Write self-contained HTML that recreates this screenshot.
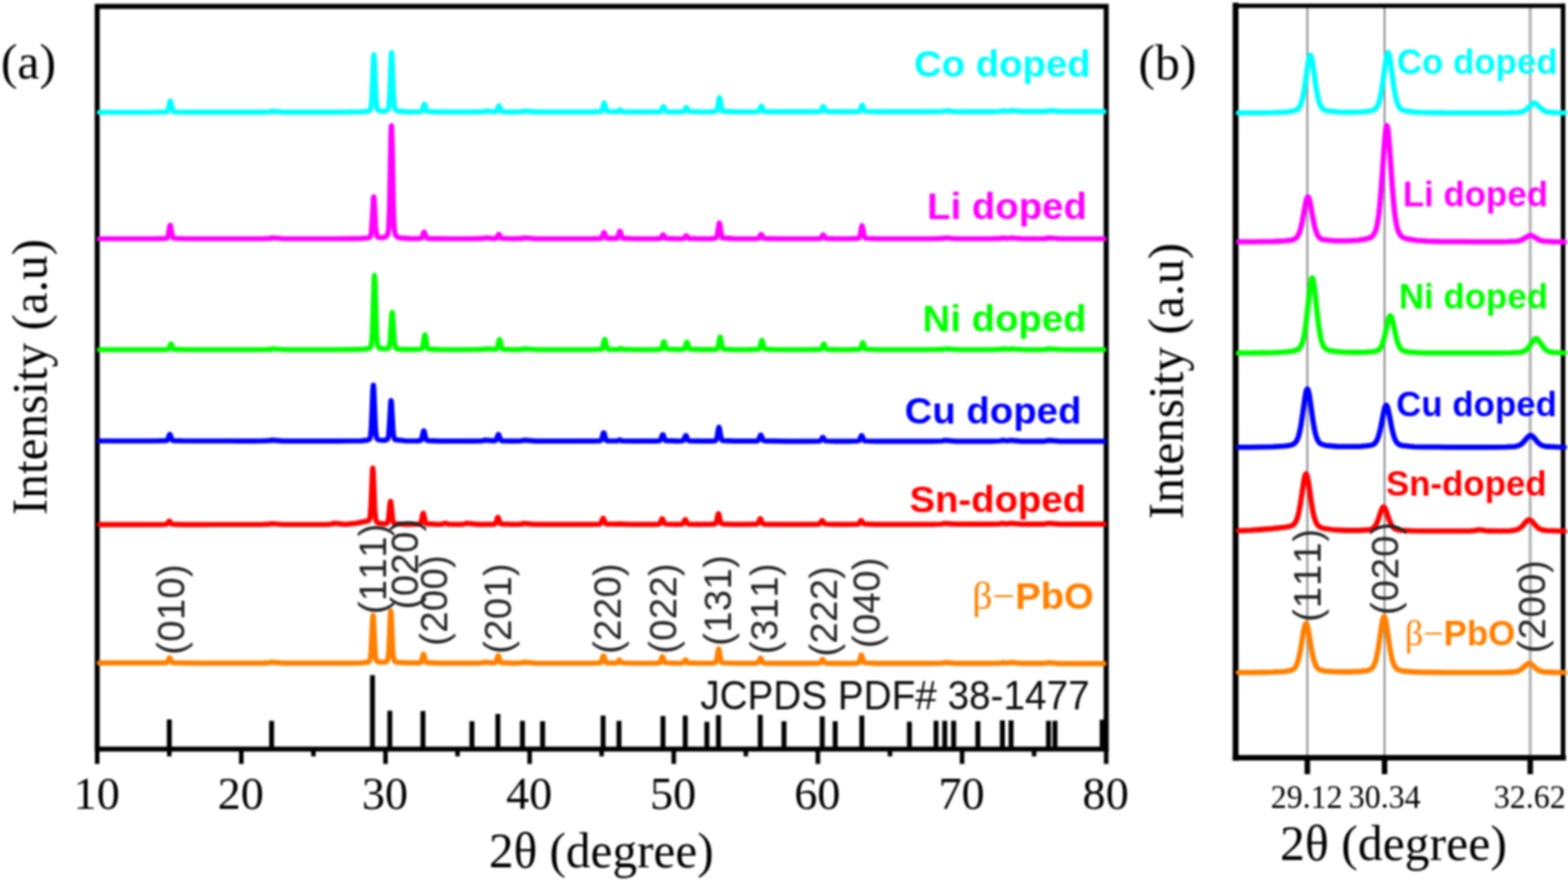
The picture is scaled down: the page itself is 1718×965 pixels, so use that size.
<!DOCTYPE html>
<html lang="en">
<head>
<meta charset="utf-8">
<title>XRD patterns</title>
<style>
html,body{margin:0;padding:0;background:#fff;}
body{width:1718px;height:965px;overflow:hidden;}
svg{display:block;filter:blur(1px);}
</style>
</head>
<body>
<svg width="1718" height="965" viewBox="0 0 1718 965" role="img" aria-label="XRD patterns">
<rect width="1718" height="965" fill="#fff"/>
<g stroke="#000" stroke-width="5.4" stroke-linecap="butt"><line x1="185.5" y1="820.5" x2="185.5" y2="788.0"/><line x1="297.6" y1="820.5" x2="297.6" y2="789.6"/><line x1="408.1" y1="820.5" x2="408.1" y2="739.5"/><line x1="427.1" y1="820.5" x2="427.1" y2="778.5"/><line x1="463.4" y1="820.5" x2="463.4" y2="778.8"/><line x1="517.1" y1="820.5" x2="517.1" y2="790.0"/><line x1="545.5" y1="820.5" x2="545.5" y2="782.0"/><line x1="572.4" y1="820.5" x2="572.4" y2="789.6"/><line x1="594.5" y1="820.5" x2="594.5" y2="790.0"/><line x1="660.8" y1="820.5" x2="660.8" y2="783.8"/><line x1="678.2" y1="820.5" x2="678.2" y2="789.6"/><line x1="726.4" y1="820.5" x2="726.4" y2="784.3"/><line x1="750.8" y1="820.5" x2="750.8" y2="783.8"/><line x1="774.5" y1="820.5" x2="774.5" y2="790.6"/><line x1="787.2" y1="820.5" x2="787.2" y2="783.3"/><line x1="833.0" y1="820.5" x2="833.0" y2="783.0"/><line x1="859.0" y1="820.5" x2="859.0" y2="790.0"/><line x1="900.9" y1="820.5" x2="900.9" y2="784.6"/><line x1="915.1" y1="820.5" x2="915.1" y2="790.0"/><line x1="944.3" y1="820.5" x2="944.3" y2="783.8"/><line x1="996.4" y1="820.5" x2="996.4" y2="790.5"/><line x1="1025.6" y1="820.5" x2="1025.6" y2="789.5"/><line x1="1035.1" y1="820.5" x2="1035.1" y2="789.5"/><line x1="1044.9" y1="820.5" x2="1044.9" y2="789.5"/><line x1="1071.4" y1="820.5" x2="1071.4" y2="790.0"/><line x1="1098.3" y1="820.5" x2="1098.3" y2="789.0"/><line x1="1107.8" y1="820.5" x2="1107.8" y2="789.0"/><line x1="1148.8" y1="820.5" x2="1148.8" y2="789.5"/><line x1="1155.9" y1="820.5" x2="1155.9" y2="789.5"/><line x1="1207.6" y1="820.5" x2="1207.6" y2="788.3"/></g>
<rect x="106.5" y="7.0" width="1105.5" height="813.5" fill="none" stroke="#000" stroke-width="5.5"/>
<g stroke="#000" stroke-width="5"><line x1="106.5" y1="820.5" x2="106.5" y2="836.8"/><line x1="264.4" y1="820.5" x2="264.4" y2="836.8"/><line x1="422.4" y1="820.5" x2="422.4" y2="836.8"/><line x1="580.3" y1="820.5" x2="580.3" y2="836.8"/><line x1="738.2" y1="820.5" x2="738.2" y2="836.8"/><line x1="896.1" y1="820.5" x2="896.1" y2="836.8"/><line x1="1054.1" y1="820.5" x2="1054.1" y2="836.8"/><line x1="1212.0" y1="820.5" x2="1212.0" y2="836.8"/><line x1="185.5" y1="820.5" x2="185.5" y2="828.5"/><line x1="343.4" y1="820.5" x2="343.4" y2="828.5"/><line x1="501.3" y1="820.5" x2="501.3" y2="828.5"/><line x1="659.2" y1="820.5" x2="659.2" y2="828.5"/><line x1="817.2" y1="820.5" x2="817.2" y2="828.5"/><line x1="975.1" y1="820.5" x2="975.1" y2="828.5"/><line x1="1133.0" y1="820.5" x2="1133.0" y2="828.5"/></g>
<g fill="none" stroke-width="5.7" stroke-linejoin="round" stroke-linecap="round">
<path d="M109.0,726.2 L121.2,726.2 L133.5,726.2 L145.8,726.2 L158.0,726.2 L170.2,726.2 L181.8,726.0 L182.5,725.8 L183.0,725.5 L183.5,724.9 L184.2,723.4 L185.2,721.0 L185.5,720.6 L185.8,720.5 L186.0,720.6 L186.2,720.9 L187.8,724.4 L188.2,725.2 L188.8,725.6 L189.8,726.0 L202.0,726.2 L214.2,726.3 L226.5,726.3 L238.8,726.3 L251.0,726.3 L263.2,726.3 L275.5,726.3 L287.8,726.3 L294.8,725.9 L297.8,725.3 L310.0,726.3 L322.2,726.3 L334.5,726.3 L346.8,726.3 L359.0,726.3 L371.2,726.3 L383.5,726.3 L395.8,726.1 L402.5,725.4 L403.8,725.0 L404.5,724.4 L405.0,723.7 L405.2,723.0 L405.5,722.2 L406.0,719.2 L406.5,713.9 L407.2,700.4 L408.2,678.4 L408.5,675.2 L408.8,674.0 L409.0,675.0 L409.2,678.1 L410.8,709.8 L411.2,716.6 L411.8,720.7 L412.0,722.0 L412.2,722.9 L412.8,724.0 L413.2,724.5 L414.8,725.2 L420.5,725.5 L422.8,725.0 L423.5,724.6 L424.0,724.1 L424.5,723.2 L424.8,722.4 L425.0,721.4 L425.5,717.8 L426.0,711.5 L426.8,696.0 L427.5,677.4 L427.8,672.6 L428.0,669.7 L428.2,669.1 L428.5,671.0 L429.0,680.4 L430.0,704.8 L430.5,713.5 L431.0,719.0 L431.2,720.8 L431.5,722.0 L431.8,722.9 L432.2,724.0 L432.8,724.6 L434.2,725.3 L446.5,726.2 L458.8,726.1 L460.2,725.9 L460.8,725.6 L461.2,725.1 L461.8,724.1 L462.5,721.6 L463.5,717.5 L463.8,716.9 L464.0,716.6 L464.2,716.8 L464.5,717.3 L466.0,723.2 L466.5,724.5 L467.0,725.3 L467.5,725.7 L479.8,726.4 L492.0,726.4 L504.2,726.4 L516.5,726.4 L528.2,726.1 L531.5,725.4 L540.8,726.2 L542.0,726.0 L542.5,725.8 L543.0,725.4 L543.5,724.6 L544.0,723.4 L545.2,719.1 L545.5,718.5 L545.8,718.2 L546.0,718.2 L546.2,718.6 L547.8,723.6 L548.2,724.8 L548.8,725.5 L549.2,725.9 L561.5,726.4 L571.0,726.1 L574.0,725.4 L586.2,726.4 L598.5,726.5 L610.8,726.5 L623.0,726.5 L635.2,726.5 L647.5,726.5 L657.0,726.2 L657.8,725.9 L658.2,725.5 L658.8,724.8 L659.2,723.6 L660.5,719.3 L660.8,718.6 L661.0,718.3 L661.2,718.3 L661.5,718.6 L663.0,723.6 L663.5,724.8 L664.0,725.5 L664.5,725.9 L674.8,726.3 L675.8,726.0 L676.5,725.5 L678.0,723.5 L678.2,723.3 L678.5,723.2 L678.8,723.3 L679.2,723.8 L680.5,725.5 L681.2,726.0 L693.5,726.5 L705.8,726.5 L718.0,726.4 L722.0,726.2 L722.8,725.9 L723.2,725.4 L723.8,724.5 L725.2,720.2 L725.5,719.6 L725.8,719.3 L726.0,719.3 L726.2,719.6 L727.8,723.9 L728.2,725.0 L728.8,725.7 L729.2,726.0 L741.5,726.5 L747.5,726.3 L748.2,726.1 L748.8,725.8 L749.5,724.9 L750.5,723.3 L750.8,723.0 L751.0,722.8 L751.2,722.8 L751.5,722.9 L753.2,725.5 L754.0,726.1 L766.2,726.5 L778.5,726.4 L783.0,726.1 L783.8,725.7 L784.2,725.3 L784.8,724.3 L785.2,722.7 L786.0,718.5 L786.8,713.3 L787.0,712.0 L787.2,711.1 L787.5,710.8 L787.8,711.2 L788.0,712.2 L789.5,721.8 L790.0,723.8 L790.5,725.0 L791.0,725.6 L791.8,726.0 L804.0,726.5 L816.2,726.6 L828.5,726.4 L829.8,726.2 L830.2,726.0 L830.8,725.6 L831.2,724.8 L832.8,721.3 L833.0,721.0 L833.2,720.8 L833.5,720.9 L833.8,721.3 L835.2,724.8 L835.8,725.5 L836.2,726.0 L837.2,726.3 L849.5,726.6 L861.8,726.6 L874.0,726.6 L886.2,726.6 L897.5,726.4 L898.2,726.1 L898.8,725.8 L899.5,724.8 L900.5,723.0 L900.8,722.6 L901.0,722.4 L901.2,722.4 L901.5,722.5 L902.0,723.2 L903.2,725.4 L903.8,725.9 L904.5,726.3 L916.8,726.6 L929.0,726.6 L939.5,726.3 L940.2,726.1 L940.8,725.8 L941.2,725.1 L941.8,724.0 L943.2,718.4 L943.5,717.7 L943.8,717.4 L944.0,717.5 L944.2,718.0 L945.8,723.5 L946.2,724.8 L946.8,725.6 L947.2,726.0 L959.5,726.6 L971.8,726.7 L984.0,726.7 L996.2,726.7 L1008.5,726.7 L1020.8,726.7 L1032.0,726.4 L1035.2,725.7 L1047.5,726.7 L1059.8,726.7 L1072.0,726.7 L1084.2,726.7 L1095.2,726.4 L1098.5,725.7 L1103.0,726.4 L1107.2,725.7 L1119.5,726.7 L1131.8,726.7 L1144.0,726.7 L1149.0,725.8 L1161.2,726.8 L1173.5,726.8 L1185.8,726.8 L1198.0,726.8 L1209.5,726.8" stroke="#ff8000"/>
<path d="M109.0,574.6 L121.2,574.6 L133.5,574.6 L145.8,574.6 L158.0,574.6 L170.2,574.6 L181.8,574.4 L182.5,574.2 L183.2,573.6 L185.0,571.1 L185.2,570.9 L185.5,570.8 L185.8,570.9 L186.2,571.5 L187.5,573.4 L188.2,574.1 L200.5,574.6 L212.8,574.6 L225.0,574.6 L237.2,574.5 L249.5,574.5 L261.8,574.5 L274.0,574.5 L286.2,574.5 L294.5,574.2 L297.5,573.5 L309.8,574.5 L322.0,574.5 L334.2,574.5 L346.5,574.5 L358.8,574.4 L363.2,574.0 L366.0,573.2 L378.2,574.3 L390.5,573.1 L402.8,570.6 L403.8,570.3 L404.2,569.9 L404.5,569.6 L404.8,569.1 L405.0,568.4 L405.2,567.4 L405.5,565.9 L406.0,561.1 L406.5,553.0 L408.0,516.7 L408.2,513.5 L408.5,512.7 L408.8,514.4 L409.0,518.5 L410.5,555.4 L411.0,563.1 L411.5,567.7 L411.8,569.1 L412.0,570.1 L412.5,571.4 L413.0,572.0 L414.2,572.8 L420.5,573.8 L423.0,573.5 L423.8,573.2 L424.2,572.8 L424.8,572.0 L425.2,570.3 L425.8,567.4 L427.2,552.3 L427.5,550.3 L427.8,549.2 L428.0,549.2 L428.2,550.2 L428.8,554.6 L429.8,565.3 L430.2,569.0 L430.8,571.3 L431.2,572.5 L431.8,573.2 L432.5,573.6 L444.8,574.3 L457.0,574.2 L459.5,574.0 L460.2,573.6 L460.8,573.1 L461.2,572.2 L461.8,570.5 L463.2,563.1 L463.5,562.4 L463.8,562.2 L464.0,562.5 L464.2,563.2 L465.8,570.7 L466.2,572.2 L466.8,573.2 L467.2,573.7 L479.5,574.4 L484.5,574.2 L487.5,573.1 L488.2,573.1 L491.5,574.2 L503.8,574.4 L508.5,574.0 L511.2,573.2 L523.5,574.4 L535.8,574.4 L541.5,574.1 L542.2,573.8 L542.8,573.4 L543.2,572.7 L544.0,570.7 L545.0,567.4 L545.2,566.9 L545.5,566.7 L545.8,566.8 L546.0,567.2 L547.5,571.9 L548.0,573.0 L548.5,573.6 L549.0,573.9 L561.2,574.4 L570.8,574.1 L573.8,573.4 L586.0,574.4 L598.2,574.4 L610.5,574.4 L622.8,574.4 L635.0,574.4 L647.2,574.4 L656.8,574.1 L657.5,573.9 L658.0,573.5 L658.5,572.9 L659.2,571.2 L660.2,568.4 L660.5,567.9 L660.8,567.7 L661.0,567.7 L661.2,568.0 L662.8,572.1 L663.2,573.1 L663.8,573.6 L664.5,574.0 L676.0,574.2 L678.2,573.9 L690.5,574.4 L702.8,574.4 L715.0,574.3 L721.8,574.1 L722.5,573.8 L723.0,573.3 L723.5,572.6 L725.0,568.8 L725.2,568.3 L725.5,568.1 L725.8,568.2 L726.0,568.5 L727.5,572.2 L728.0,573.1 L728.5,573.7 L729.2,574.0 L741.5,574.3 L747.0,574.1 L747.8,573.9 L748.2,573.5 L748.8,572.9 L750.2,569.7 L750.5,569.3 L750.8,569.1 L751.0,569.1 L751.2,569.4 L752.8,572.5 L753.2,573.3 L753.8,573.7 L754.8,574.1 L767.0,574.3 L779.2,574.2 L783.0,573.9 L783.8,573.6 L784.2,573.0 L784.8,572.0 L785.2,570.4 L786.5,564.3 L786.8,563.3 L787.0,562.7 L787.2,562.6 L787.5,563.0 L788.0,565.0 L789.0,570.0 L789.5,571.8 L790.0,572.9 L790.5,573.5 L791.2,573.9 L803.5,574.3 L815.8,574.3 L828.0,574.2 L829.5,573.9 L830.0,573.7 L830.5,573.2 L831.0,572.3 L832.5,568.5 L832.8,568.2 L833.0,568.1 L833.2,568.2 L833.8,569.2 L835.0,572.4 L835.5,573.2 L836.0,573.7 L837.0,574.1 L849.2,574.3 L861.5,574.3 L873.8,574.3 L886.0,574.3 L897.2,574.1 L898.0,573.8 L898.5,573.4 L899.2,572.4 L900.2,570.6 L900.5,570.3 L900.8,570.1 L901.0,570.1 L901.2,570.3 L903.0,573.1 L903.5,573.6 L904.2,574.0 L916.5,574.3 L928.8,574.3 L939.8,574.1 L940.5,573.9 L941.0,573.5 L941.8,572.6 L943.0,570.4 L943.2,570.2 L943.5,570.0 L943.8,570.1 L944.0,570.4 L945.5,572.9 L946.0,573.5 L946.8,573.9 L959.0,574.3 L971.2,574.3 L983.5,574.3 L995.8,574.3 L1008.0,574.3 L1020.2,574.3 L1031.8,574.0 L1035.0,573.3 L1047.2,574.2 L1059.5,574.2 L1071.8,574.2 L1084.0,574.2 L1095.0,573.9 L1098.0,573.2 L1102.8,573.9 L1107.0,573.2 L1119.2,574.2 L1131.5,574.2 L1143.8,574.1 L1148.8,573.2 L1161.0,574.2 L1173.2,574.2 L1185.5,574.2 L1197.8,574.2 L1209.5,574.2" stroke="#ff0000"/>
<path d="M109.0,483.0 L121.2,483.0 L133.5,483.0 L145.8,483.0 L158.0,483.0 L170.2,483.0 L182.0,482.7 L182.8,482.5 L183.2,482.1 L183.8,481.4 L184.5,479.6 L185.5,476.5 L185.8,476.0 L186.0,475.8 L186.2,475.9 L186.5,476.2 L188.0,480.6 L188.5,481.6 L189.0,482.2 L189.8,482.6 L202.0,483.0 L214.2,483.0 L226.5,483.0 L238.8,483.0 L251.0,483.0 L263.2,483.1 L275.5,483.1 L287.8,483.0 L295.0,482.7 L298.0,482.1 L310.2,483.1 L322.5,483.1 L334.8,483.1 L347.0,483.1 L359.2,483.1 L371.5,483.1 L383.8,483.0 L396.0,482.8 L402.5,482.1 L404.0,481.6 L404.5,481.2 L405.0,480.6 L405.5,479.4 L405.8,478.4 L406.0,477.1 L406.5,472.6 L407.0,465.1 L408.5,428.0 L408.8,423.8 L409.0,421.9 L409.2,422.5 L409.5,425.7 L411.0,462.7 L411.5,471.1 L412.0,476.2 L412.2,477.8 L412.5,478.9 L412.8,479.7 L413.2,480.7 L413.8,481.2 L415.5,482.0 L421.5,482.3 L423.5,481.8 L424.2,481.3 L424.8,480.7 L425.0,480.1 L425.2,479.4 L425.8,476.8 L426.2,472.2 L427.0,460.6 L428.0,442.2 L428.2,439.6 L428.5,438.8 L428.8,439.8 L429.0,442.6 L430.5,469.4 L431.0,475.1 L431.5,478.5 L431.8,479.6 L432.0,480.3 L432.5,481.2 L433.0,481.7 L445.2,483.0 L457.5,482.9 L460.2,482.6 L460.8,482.4 L461.2,482.0 L461.8,481.2 L462.2,479.9 L463.8,473.1 L464.0,472.3 L464.2,471.9 L464.5,471.9 L464.8,472.5 L466.2,479.3 L466.8,480.9 L467.2,481.8 L467.8,482.3 L468.8,482.7 L481.0,483.1 L493.2,483.1 L505.5,483.1 L517.8,483.1 L528.5,482.8 L531.8,482.1 L541.2,482.9 L542.5,482.7 L543.0,482.5 L543.5,482.0 L544.0,481.2 L545.5,476.8 L545.8,476.3 L546.0,475.9 L546.2,475.9 L546.5,476.2 L548.2,481.1 L548.8,482.0 L549.2,482.5 L550.0,482.8 L562.2,483.1 L571.2,482.8 L574.5,482.2 L586.8,483.2 L599.0,483.2 L611.2,483.2 L623.5,483.2 L635.8,483.2 L648.0,483.2 L657.2,482.8 L658.0,482.6 L658.5,482.2 L659.0,481.4 L659.5,480.1 L660.8,475.3 L661.0,474.5 L661.2,474.0 L661.5,474.0 L661.8,474.3 L662.2,475.8 L663.2,479.7 L663.8,481.1 L664.2,482.0 L664.8,482.5 L665.8,482.9 L675.8,483.0 L677.0,482.7 L678.5,482.0 L679.0,481.9 L681.2,482.9 L693.5,483.2 L705.8,483.2 L718.0,483.1 L722.2,482.9 L723.0,482.6 L723.5,482.1 L724.0,481.3 L725.8,476.4 L726.0,476.0 L726.2,476.0 L726.5,476.2 L727.0,477.4 L728.0,480.5 L728.5,481.6 L729.0,482.3 L729.5,482.7 L741.8,483.2 L747.5,482.9 L748.2,482.7 L748.8,482.3 L749.2,481.6 L751.0,477.4 L751.2,477.1 L751.5,477.0 L751.8,477.2 L752.2,478.2 L753.2,480.8 L753.8,481.8 L754.2,482.4 L755.0,482.8 L767.2,483.2 L779.5,483.1 L783.2,482.8 L784.0,482.5 L784.5,482.0 L785.0,481.2 L785.5,479.7 L786.2,475.8 L787.2,469.3 L787.5,468.4 L787.8,468.0 L788.0,468.3 L788.2,469.1 L789.8,478.4 L790.2,480.4 L790.8,481.6 L791.2,482.3 L792.0,482.7 L804.2,483.2 L816.5,483.2 L828.8,483.1 L830.0,482.9 L830.5,482.6 L831.0,482.1 L831.5,481.3 L833.0,477.2 L833.2,476.7 L833.5,476.5 L833.8,476.6 L834.0,476.9 L835.5,481.0 L836.0,481.9 L836.5,482.5 L837.2,482.9 L849.5,483.2 L861.8,483.3 L874.0,483.3 L886.2,483.3 L897.8,483.1 L898.5,482.8 L899.0,482.5 L899.8,481.6 L901.0,479.4 L901.2,479.1 L901.5,479.0 L901.8,479.1 L902.2,479.8 L903.5,482.0 L904.0,482.5 L904.8,483.0 L917.0,483.3 L929.2,483.3 L940.2,483.0 L941.0,482.7 L941.5,482.3 L942.0,481.6 L943.5,477.8 L943.8,477.3 L944.0,477.1 L944.2,477.1 L944.5,477.4 L946.0,481.1 L946.5,482.0 L947.0,482.6 L947.8,483.0 L960.0,483.3 L972.2,483.3 L984.5,483.3 L996.8,483.3 L1009.0,483.3 L1021.2,483.3 L1032.2,483.0 L1035.5,482.3 L1047.8,483.3 L1060.0,483.3 L1072.2,483.3 L1084.5,483.3 L1095.5,483.0 L1098.8,482.3 L1103.2,483.0 L1107.5,482.3 L1119.8,483.3 L1132.0,483.4 L1144.2,483.3 L1149.5,482.4 L1161.8,483.4 L1174.0,483.4 L1186.2,483.4 L1198.5,483.4 L1209.5,483.4" stroke="#0000ff"/>
<path d="M109.0,383.0 L121.2,383.0 L133.5,383.0 L145.8,383.0 L158.0,383.0 L170.2,383.0 L182.5,382.8 L183.8,382.6 L184.2,382.4 L184.8,381.9 L185.2,381.1 L186.8,377.3 L187.0,376.9 L187.2,376.7 L187.5,376.9 L187.8,377.2 L189.2,381.0 L189.8,381.8 L190.2,382.3 L191.0,382.7 L203.2,383.0 L215.5,383.0 L227.8,383.0 L240.0,383.0 L252.2,383.0 L264.5,383.0 L276.8,383.0 L289.0,383.0 L296.2,382.6 L299.2,382.0 L311.5,383.0 L323.8,383.0 L336.0,383.0 L348.2,383.0 L360.5,383.0 L372.8,383.0 L385.0,382.9 L397.2,382.7 L403.2,381.9 L404.8,381.3 L405.5,380.7 L406.0,380.0 L406.5,378.9 L406.8,377.9 L407.0,376.5 L407.5,371.9 L408.0,363.7 L408.8,342.6 L409.8,308.6 L410.0,303.5 L410.2,301.7 L410.5,303.3 L410.8,308.1 L412.2,357.3 L412.8,368.0 L413.2,374.4 L413.5,376.4 L413.8,377.8 L414.0,378.7 L414.5,379.9 L415.0,380.6 L416.2,381.4 L421.5,382.2 L424.2,381.8 L425.2,381.4 L425.8,381.0 L426.2,380.1 L426.5,379.3 L427.0,376.8 L427.5,372.3 L428.2,361.3 L429.0,348.0 L429.2,344.6 L429.5,342.6 L429.8,342.2 L430.0,343.5 L430.5,350.2 L431.5,367.6 L432.0,373.8 L432.5,377.7 L433.0,379.8 L433.5,380.9 L434.0,381.5 L436.0,382.3 L448.2,382.8 L460.5,382.5 L461.5,382.3 L462.0,382.0 L462.5,381.3 L463.0,380.1 L463.5,378.1 L465.0,368.2 L465.2,367.2 L465.5,366.7 L465.8,367.0 L466.0,367.9 L467.5,377.7 L468.0,379.9 L468.5,381.2 L469.0,381.9 L469.5,382.3 L481.8,382.9 L494.0,383.0 L506.2,383.0 L518.5,383.0 L529.8,382.7 L533.0,382.0 L541.8,382.7 L543.2,382.5 L543.8,382.3 L544.2,381.9 L544.8,381.1 L545.2,379.8 L546.8,373.0 L547.0,372.2 L547.2,371.8 L547.5,371.8 L547.8,372.4 L549.2,379.1 L549.8,380.7 L550.2,381.7 L550.8,382.2 L551.8,382.6 L564.0,383.0 L572.5,382.7 L575.5,382.0 L587.8,383.0 L600.0,383.0 L612.2,383.0 L624.5,383.0 L636.8,383.0 L649.0,383.0 L658.2,382.6 L659.0,382.4 L659.5,382.0 L660.0,381.2 L660.5,379.9 L662.0,373.2 L662.2,372.3 L662.5,371.8 L662.8,371.8 L663.0,372.3 L664.5,379.0 L665.0,380.6 L665.5,381.6 L666.0,382.2 L666.8,382.6 L677.0,382.8 L678.2,382.5 L679.5,381.8 L680.0,381.7 L680.8,381.9 L682.5,382.7 L694.8,383.0 L707.0,383.0 L719.2,382.9 L723.2,382.6 L724.0,382.4 L724.5,382.0 L725.0,381.2 L725.5,379.9 L726.8,375.3 L727.0,374.7 L727.2,374.3 L727.5,374.3 L727.8,374.6 L729.2,379.9 L729.8,381.1 L730.2,381.9 L730.8,382.4 L743.0,382.9 L748.5,382.7 L749.2,382.4 L749.8,382.0 L750.2,381.3 L750.8,380.1 L752.0,375.8 L752.2,375.2 L752.5,374.8 L752.8,374.8 L753.0,375.1 L753.5,376.5 L754.5,380.0 L755.0,381.2 L755.5,382.0 L756.0,382.4 L768.2,382.9 L780.5,382.9 L784.5,382.6 L785.2,382.3 L785.8,381.9 L786.2,381.0 L786.8,379.6 L787.5,376.0 L788.5,370.2 L788.8,369.5 L789.0,369.2 L789.2,369.6 L789.5,370.5 L791.0,378.8 L791.5,380.6 L792.0,381.6 L792.5,382.1 L793.5,382.6 L805.8,383.0 L818.0,383.0 L830.2,382.7 L831.0,382.5 L831.5,382.2 L832.0,381.6 L832.5,380.6 L833.2,378.0 L834.2,373.6 L834.5,373.0 L834.8,372.7 L835.0,372.9 L835.2,373.5 L836.8,379.7 L837.2,381.1 L837.8,381.9 L838.2,382.3 L850.5,383.0 L862.8,383.0 L875.0,383.0 L887.2,383.0 L898.8,382.7 L899.5,382.5 L900.0,382.1 L900.5,381.4 L902.2,377.1 L902.5,376.8 L902.8,376.8 L903.0,377.0 L903.5,378.0 L904.5,380.7 L905.0,381.6 L905.5,382.2 L906.2,382.6 L918.5,383.0 L930.8,383.0 L941.2,382.7 L942.0,382.4 L942.5,382.0 L943.0,381.3 L943.8,379.4 L944.8,376.1 L945.0,375.5 L945.2,375.3 L945.5,375.3 L945.8,375.7 L947.2,380.4 L947.8,381.5 L948.2,382.1 L948.8,382.5 L961.0,383.0 L973.2,383.0 L985.5,383.0 L997.8,383.0 L1010.0,383.0 L1022.2,383.0 L1033.5,382.7 L1036.8,382.0 L1049.0,383.0 L1061.2,383.0 L1073.5,383.0 L1085.8,383.0 L1096.8,382.7 L1100.0,382.0 L1104.5,382.7 L1108.8,382.0 L1121.0,383.0 L1133.2,383.0 L1145.5,382.9 L1150.5,382.0 L1162.8,383.0 L1175.0,383.0 L1187.2,383.0 L1199.5,383.0 L1209.5,383.0" stroke="#00ff00"/>
<path d="M109.0,261.5 L121.2,261.5 L133.5,261.5 L145.8,261.5 L158.0,261.5 L170.2,261.5 L181.8,261.1 L182.5,260.9 L183.0,260.5 L183.5,259.9 L184.0,258.7 L184.5,256.7 L186.0,247.8 L186.2,247.0 L186.5,246.8 L186.8,247.2 L187.0,248.1 L188.5,257.1 L189.0,258.9 L189.5,260.0 L190.0,260.6 L190.8,261.0 L203.0,261.5 L215.2,261.5 L227.5,261.5 L239.8,261.5 L252.0,261.5 L264.2,261.5 L276.5,261.5 L288.8,261.5 L295.5,261.1 L298.5,260.5 L310.8,261.5 L323.0,261.5 L335.2,261.5 L347.5,261.5 L359.8,261.5 L372.0,261.5 L384.2,261.4 L396.5,261.2 L403.5,260.5 L404.8,260.1 L405.2,259.7 L405.8,259.0 L406.0,258.4 L406.2,257.5 L406.8,254.8 L407.2,249.9 L408.0,237.6 L408.8,222.6 L409.0,218.7 L409.2,216.2 L409.5,215.6 L409.8,216.8 L410.0,219.8 L411.5,247.5 L412.0,253.3 L412.5,256.6 L412.8,257.7 L413.0,258.4 L413.5,259.3 L414.0,259.7 L416.0,260.3 L420.2,260.1 L422.2,259.5 L423.5,258.6 L424.0,258.1 L424.5,257.2 L425.0,255.7 L425.2,254.5 L425.5,252.7 L425.8,250.2 L426.2,242.0 L426.8,227.7 L428.2,153.0 L428.5,143.3 L428.8,137.9 L429.0,137.7 L429.2,142.8 L429.8,164.4 L430.8,217.0 L431.2,235.2 L431.8,246.5 L432.0,250.0 L432.2,252.6 L432.5,254.4 L432.8,255.7 L433.2,257.3 L433.8,258.1 L434.8,259.2 L437.2,260.3 L449.5,261.3 L460.5,261.1 L461.2,260.9 L461.8,260.6 L462.2,260.1 L462.8,259.1 L464.2,254.7 L464.5,254.3 L464.8,254.2 L465.0,254.3 L465.2,254.8 L466.8,259.2 L467.2,260.1 L467.8,260.7 L468.5,261.1 L480.8,261.4 L493.0,261.5 L505.2,261.5 L517.5,261.5 L529.0,261.2 L532.2,260.5 L542.0,261.3 L543.2,261.1 L543.8,260.9 L544.2,260.4 L545.0,259.2 L546.0,257.2 L546.2,256.9 L546.5,256.7 L546.8,256.8 L547.0,257.1 L548.5,259.9 L549.0,260.6 L549.5,261.0 L561.8,261.5 L571.8,261.2 L574.8,260.5 L587.0,261.5 L599.2,261.5 L611.5,261.5 L623.8,261.5 L636.0,261.5 L648.2,261.5 L657.8,261.2 L658.5,261.0 L659.0,260.6 L659.5,260.0 L660.2,258.3 L661.2,255.5 L661.5,255.0 L661.8,254.7 L662.0,254.8 L662.2,255.1 L663.8,259.2 L664.2,260.1 L664.8,260.7 L665.5,261.1 L674.8,261.2 L675.8,260.9 L676.2,260.6 L676.8,259.9 L677.2,258.8 L678.8,253.8 L679.0,253.3 L679.2,253.2 L679.5,253.5 L680.0,254.8 L681.0,258.3 L681.5,259.6 L682.0,260.4 L682.5,260.9 L694.8,261.5 L707.0,261.5 L719.2,261.4 L723.0,261.2 L723.8,261.0 L724.2,260.6 L725.0,259.5 L726.0,257.7 L726.2,257.4 L726.5,257.2 L726.8,257.3 L727.0,257.5 L728.5,260.0 L729.0,260.6 L729.8,261.1 L742.0,261.5 L748.2,261.3 L749.0,261.1 L749.8,260.6 L751.2,258.6 L751.5,258.4 L751.8,258.2 L752.0,258.3 L752.2,258.4 L754.0,260.6 L754.8,261.1 L767.0,261.5 L779.2,261.4 L783.5,261.0 L784.2,260.7 L784.8,260.3 L785.2,259.5 L785.8,258.1 L786.2,255.7 L787.5,246.7 L787.8,245.3 L788.0,244.4 L788.2,244.3 L788.5,244.9 L789.0,247.8 L790.0,255.1 L790.5,257.7 L791.0,259.3 L791.5,260.2 L792.0,260.7 L804.2,261.4 L816.5,261.5 L828.8,261.4 L830.5,261.2 L831.2,260.8 L831.8,260.3 L833.5,257.1 L833.8,256.8 L834.0,256.7 L834.2,256.9 L834.8,257.6 L836.0,260.1 L836.5,260.7 L837.2,261.1 L849.5,261.5 L861.8,261.5 L874.0,261.5 L886.2,261.5 L898.2,261.3 L899.0,261.0 L899.5,260.6 L900.2,259.6 L901.2,257.8 L901.5,257.4 L901.8,257.3 L902.0,257.3 L902.2,257.4 L904.0,260.3 L904.5,260.8 L905.2,261.2 L917.5,261.5 L929.8,261.5 L940.0,261.1 L940.8,260.8 L941.2,260.4 L941.8,259.6 L942.2,258.2 L943.0,254.5 L944.0,248.5 L944.2,247.6 L944.5,247.2 L944.8,247.5 L945.0,248.3 L946.5,256.9 L947.0,258.8 L947.5,260.0 L948.0,260.6 L948.8,261.0 L961.0,261.5 L973.2,261.5 L985.5,261.5 L997.8,261.5 L1010.0,261.5 L1022.2,261.5 L1032.8,261.2 L1036.0,260.5 L1048.2,261.5 L1060.5,261.5 L1072.8,261.5 L1085.0,261.5 L1096.0,261.2 L1099.0,260.5 L1103.8,261.2 L1108.0,260.5 L1120.2,261.5 L1132.5,261.5 L1144.8,261.4 L1149.8,260.5 L1162.0,261.5 L1174.2,261.5 L1186.5,261.5 L1198.8,261.5 L1209.5,261.5" stroke="#ff00ff"/>
<path d="M109.0,123.0 L121.2,123.0 L133.5,123.0 L145.8,123.0 L158.0,123.0 L170.2,122.9 L182.2,122.5 L183.0,122.3 L183.5,121.9 L184.0,121.1 L184.5,119.7 L186.0,112.4 L186.2,111.4 L186.5,110.8 L186.8,110.7 L187.0,111.2 L187.5,113.2 L188.5,118.4 L189.0,120.3 L189.5,121.4 L190.0,122.0 L190.8,122.5 L203.0,122.9 L215.2,122.9 L227.5,122.9 L239.8,122.9 L252.0,122.9 L264.2,122.9 L276.5,122.9 L288.8,122.8 L295.8,122.5 L298.5,121.9 L310.8,122.8 L323.0,122.8 L335.2,122.8 L347.5,122.8 L359.8,122.8 L372.0,122.8 L384.2,122.7 L396.5,122.5 L403.0,121.8 L404.5,121.2 L405.2,120.6 L405.8,119.9 L406.0,119.3 L406.2,118.4 L406.5,117.2 L407.0,113.2 L407.5,106.1 L409.0,68.5 L409.2,63.4 L409.5,60.5 L409.8,60.1 L410.0,62.4 L410.5,73.0 L411.5,99.7 L412.0,109.0 L412.5,114.9 L412.8,116.7 L413.0,118.0 L413.2,119.0 L413.8,120.1 L414.2,120.7 L415.5,121.4 L420.8,121.8 L423.2,121.3 L424.2,120.8 L424.8,120.3 L425.2,119.5 L425.5,118.8 L425.8,117.8 L426.0,116.4 L426.5,111.9 L427.0,104.0 L428.5,64.5 L428.8,59.9 L429.0,57.6 L429.2,58.0 L429.5,61.2 L431.0,100.5 L431.5,109.7 L432.0,115.2 L432.2,117.0 L432.5,118.3 L432.8,119.1 L433.2,120.2 L433.8,120.8 L435.2,121.6 L447.5,122.6 L459.8,122.5 L461.2,122.2 L461.8,121.9 L462.2,121.4 L462.8,120.4 L464.5,114.5 L464.8,114.0 L465.0,114.0 L465.2,114.2 L465.8,115.7 L466.8,119.4 L467.2,120.7 L467.8,121.6 L468.2,122.0 L480.5,122.7 L492.8,122.7 L505.0,122.7 L517.2,122.7 L529.0,122.4 L532.2,121.7 L542.0,122.5 L543.2,122.2 L543.8,122.0 L544.2,121.4 L544.8,120.5 L546.2,116.4 L546.5,116.0 L546.8,115.9 L547.0,116.1 L547.2,116.5 L548.8,120.6 L549.2,121.5 L549.8,122.0 L550.5,122.3 L562.8,122.6 L571.8,122.4 L575.0,121.7 L587.2,122.6 L599.5,122.6 L611.8,122.6 L624.0,122.6 L636.2,122.6 L648.5,122.6 L657.8,122.2 L658.5,122.0 L659.0,121.6 L659.5,120.9 L660.0,119.6 L661.5,113.7 L661.8,113.1 L662.0,112.8 L662.2,113.0 L662.5,113.6 L664.0,119.4 L664.5,120.8 L665.0,121.5 L665.5,122.0 L675.8,122.4 L676.8,122.2 L677.5,121.8 L679.0,120.4 L679.2,120.3 L679.5,120.3 L680.0,120.6 L681.5,121.9 L682.5,122.4 L694.8,122.6 L707.0,122.5 L719.2,122.5 L723.0,122.3 L723.8,122.0 L724.2,121.5 L724.8,120.8 L726.2,117.3 L726.5,116.9 L726.8,116.8 L727.0,116.9 L727.2,117.2 L728.8,120.7 L729.2,121.5 L729.8,121.9 L730.8,122.3 L743.0,122.5 L748.2,122.3 L749.0,122.0 L749.5,121.7 L750.0,121.1 L751.5,118.2 L751.8,117.9 L752.0,117.8 L752.2,117.8 L752.5,118.1 L754.0,121.0 L754.5,121.6 L755.0,122.0 L767.2,122.5 L779.5,122.4 L783.8,122.0 L784.5,121.8 L785.0,121.4 L785.5,120.6 L786.0,119.2 L786.5,116.9 L787.8,108.7 L788.0,107.5 L788.2,106.8 L788.5,106.8 L788.8,107.5 L790.2,116.9 L790.8,119.2 L791.2,120.6 L791.8,121.4 L792.2,121.8 L804.5,122.4 L816.8,122.5 L829.0,122.3 L830.5,122.1 L831.2,121.8 L831.8,121.2 L832.2,120.4 L833.5,117.1 L833.8,116.6 L834.0,116.3 L834.2,116.2 L834.5,116.4 L835.0,117.5 L836.0,120.1 L836.5,121.1 L837.0,121.7 L837.8,122.1 L850.0,122.4 L862.2,122.4 L874.5,122.4 L886.8,122.4 L898.2,122.1 L899.0,121.9 L899.5,121.5 L900.0,120.7 L901.5,117.2 L901.8,116.8 L902.0,116.6 L902.2,116.6 L902.5,116.9 L904.0,120.4 L904.5,121.3 L905.0,121.8 L905.8,122.1 L918.0,122.4 L930.2,122.4 L940.8,122.1 L941.5,121.8 L942.0,121.4 L942.5,120.6 L943.2,118.7 L944.2,115.7 L944.5,115.3 L944.8,115.1 L945.0,115.3 L945.2,115.8 L946.8,120.2 L947.2,121.1 L947.8,121.7 L948.5,122.0 L960.8,122.4 L973.0,122.4 L985.2,122.4 L997.5,122.3 L1009.8,122.3 L1022.0,122.3 L1033.0,122.0 L1036.2,121.3 L1048.5,122.3 L1060.8,122.3 L1073.0,122.3 L1085.2,122.3 L1096.0,122.0 L1099.2,121.3 L1104.0,122.0 L1108.2,121.2 L1120.5,122.2 L1132.8,122.2 L1145.0,122.1 L1150.0,121.2 L1162.2,122.2 L1174.5,122.2 L1186.8,122.2 L1199.0,122.2 L1209.5,122.2" stroke="#00ffff"/>
</g>
<g font-family="'Liberation Serif', serif" font-size="50.6" fill="#000"><text x="105.9" y="886.2" text-anchor="middle">10</text><text x="263.8" y="886.2" text-anchor="middle">20</text><text x="421.8" y="886.2" text-anchor="middle">30</text><text x="579.7" y="886.2" text-anchor="middle">40</text><text x="737.6" y="886.2" text-anchor="middle">50</text><text x="895.5" y="886.2" text-anchor="middle">60</text><text x="1053.5" y="886.2" text-anchor="middle">70</text><text x="1211.4" y="886.2" text-anchor="middle">80</text></g>
<g font-family="'Liberation Sans', sans-serif" font-weight="bold" font-size="42">
<text transform="translate(1195.0,84.3) scale(1,0.965)" text-anchor="end" fill="#00ffff">Co doped</text>
<text transform="translate(1190.8,240.3) scale(1,0.965)" text-anchor="end" fill="#ff00ff">Li doped</text>
<text transform="translate(1190.5,362.5) scale(1,0.965)" text-anchor="end" fill="#00ff00">Ni doped</text>
<text transform="translate(1184.8,464.3) scale(1,0.965)" text-anchor="end" fill="#0000ff">Cu doped</text>
<text transform="translate(1190.0,561.0) scale(1,0.965)" text-anchor="end" fill="#ff0000">Sn-doped</text>
<text transform="translate(1198.5,667) scale(1,0.965)" text-anchor="end" fill="#ff8000"><tspan font-family="'Liberation Serif', serif" font-weight="normal" font-size="1.04em">β−</tspan>PbO</text>
</g>
<text transform="translate(1193.8,777.2) scale(1,1.05)" text-anchor="end" font-family="'Liberation Sans', sans-serif" font-size="42.4" fill="#0a0a0a">JCPDS PDF# 38-1477</text>
<g font-family="'Liberation Sans', sans-serif" fill="#222" style="font-kerning:none">
<text transform="translate(202.0,667.5) rotate(-90)" text-anchor="middle" font-size="42" letter-spacing="0.3">(010)</text>
<text transform="translate(422.7,622.9) rotate(-90)" text-anchor="middle" font-size="42" letter-spacing="0.3">(111)</text>
<text transform="translate(458.0,617.6) rotate(-90)" text-anchor="middle" font-size="42" letter-spacing="0.3">(020)</text>
<text transform="translate(490.0,657.6) rotate(-90)" text-anchor="middle" font-size="42" letter-spacing="0.3">(200)</text>
<text transform="translate(560.0,666.4) rotate(-90)" text-anchor="middle" font-size="42" letter-spacing="0.3">(201)</text>
<text transform="translate(679.8,666.4) rotate(-90)" text-anchor="middle" font-size="42" letter-spacing="0.3">(220)</text>
<text transform="translate(741.2,666.4) rotate(-90)" text-anchor="middle" font-size="42" letter-spacing="0.3">(022)</text>
<text transform="translate(800.5,657.6) rotate(-90)" text-anchor="middle" font-size="42" letter-spacing="0.3">(131)</text>
<text transform="translate(851.5,666.6) rotate(-90)" text-anchor="middle" font-size="42" letter-spacing="0.3">(311)</text>
<text transform="translate(917.3,669.4) rotate(-90)" text-anchor="middle" font-size="42" letter-spacing="0.3">(222)</text>
<text transform="translate(963.5,660.1) rotate(-90)" text-anchor="middle" font-size="42" letter-spacing="0.3">(040)</text>
</g>
<g font-family="'Liberation Serif', serif" fill="#000">
<text x="0.9" y="86.3" font-size="54.5">(a)</text>
<text x="1247.3" y="86.7" font-size="54.5">(b)</text>
<text x="658.8" y="949.8" font-size="54" text-anchor="middle">2θ (degree)</text>
<text x="1526.8" y="942" font-size="54.5" text-anchor="middle">2θ (degree)</text>
<text transform="translate(50.5,413) rotate(-90)" font-size="53.9" text-anchor="middle">Intensity (a.u)</text>
<text transform="translate(1295.5,417.4) rotate(-90)" font-size="54" text-anchor="middle">Intensity (a.u)</text>
</g>
<g>
<line x1="1432.4" y1="7.0" x2="1432.4" y2="830.0" stroke="#8e8e8e" stroke-width="2.1"/>
<line x1="1517.0" y1="7.0" x2="1517.0" y2="830.0" stroke="#8e8e8e" stroke-width="2.1"/>
<line x1="1676.6" y1="7.0" x2="1676.6" y2="830.0" stroke="#b4b4b4" stroke-width="3.4"/>
</g>
<g stroke="#000" stroke-linecap="square">
<line x1="1353.8" y1="6.3" x2="1353.8" y2="830" stroke-width="6.4"/>
<line x1="1353.8" y1="830" x2="1712.6" y2="830" stroke-width="6.2"/>
<line x1="1354.6" y1="6.3" x2="1712.6" y2="6.3" stroke-width="4.8"/>
<line x1="1712.6" y1="6.3" x2="1712.6" y2="830" stroke-width="5"/>
</g>
<g fill="none" stroke-width="5.8" stroke-linejoin="round" stroke-linecap="round">
<path d="M1357.0,736.6 L1369.5,736.6 L1382.0,736.5 L1394.5,736.2 L1407.0,735.6 L1413.0,734.7 L1415.0,734.1 L1416.5,733.4 L1417.5,732.7 L1418.5,731.7 L1419.5,730.4 L1420.5,728.5 L1421.5,726.1 L1422.5,722.9 L1423.5,718.8 L1425.0,711.2 L1428.5,690.3 L1429.0,687.8 L1429.5,685.7 L1430.0,684.2 L1430.5,683.2 L1431.0,682.9 L1431.5,683.2 L1432.0,684.2 L1432.5,685.7 L1433.0,687.8 L1434.0,693.0 L1437.0,711.2 L1438.5,718.8 L1439.5,722.8 L1440.5,726.0 L1441.5,728.5 L1442.5,730.3 L1443.5,731.7 L1444.5,732.6 L1445.5,733.3 L1447.0,734.0 L1452.0,735.1 L1464.5,735.9 L1477.0,736.0 L1489.5,735.5 L1497.5,734.6 L1500.0,733.9 L1501.5,733.2 L1502.5,732.5 L1503.5,731.6 L1504.5,730.3 L1505.5,728.5 L1506.5,726.1 L1507.5,722.8 L1508.5,718.7 L1509.5,713.6 L1511.5,700.9 L1514.0,683.8 L1514.5,681.0 L1515.0,678.6 L1515.5,676.9 L1516.0,675.8 L1516.5,675.4 L1517.0,675.8 L1517.5,676.9 L1518.0,678.7 L1518.5,681.0 L1519.5,687.0 L1522.5,707.7 L1524.0,716.3 L1525.0,720.9 L1526.0,724.6 L1527.0,727.4 L1528.0,729.5 L1529.0,731.0 L1530.0,732.1 L1531.0,732.9 L1532.5,733.7 L1536.0,734.8 L1548.5,736.0 L1561.0,736.3 L1573.5,736.5 L1586.0,736.6 L1598.5,736.6 L1611.0,736.6 L1623.5,736.6 L1636.0,736.6 L1648.5,736.5 L1659.0,736.0 L1662.0,735.4 L1664.0,734.7 L1666.0,733.6 L1668.5,731.7 L1672.5,728.0 L1673.5,727.3 L1674.5,726.8 L1675.0,726.7 L1675.5,726.7 L1676.0,726.7 L1677.0,727.0 L1678.0,727.6 L1683.5,732.6 L1685.5,734.0 L1687.5,734.9 L1690.5,735.8 L1703.0,736.5 L1714.0,736.6" stroke="#ff8000"/>
<path d="M1357.0,581.3 L1369.5,580.8 L1382.0,580.0 L1394.5,579.0 L1407.0,577.6 L1413.0,576.6 L1415.0,575.9 L1416.5,575.2 L1417.5,574.4 L1418.5,573.4 L1419.5,571.9 L1420.5,569.9 L1421.5,567.1 L1422.5,563.6 L1423.5,559.1 L1425.0,550.6 L1428.5,527.3 L1429.0,524.5 L1429.5,522.2 L1430.0,520.5 L1430.5,519.5 L1431.0,519.1 L1431.5,519.5 L1432.0,520.7 L1432.5,522.4 L1433.0,524.8 L1434.0,530.7 L1437.0,551.4 L1438.5,560.0 L1439.5,564.6 L1440.5,568.3 L1441.5,571.1 L1442.5,573.3 L1443.5,574.8 L1444.5,576.0 L1445.5,576.8 L1447.0,577.7 L1450.5,578.8 L1463.0,580.5 L1475.5,581.0 L1488.0,581.0 L1499.0,580.5 L1501.5,580.0 L1503.0,579.4 L1504.0,578.9 L1505.0,578.1 L1506.0,577.1 L1507.0,575.7 L1508.0,573.9 L1509.0,571.7 L1511.0,566.3 L1513.5,558.9 L1514.0,557.7 L1514.5,556.7 L1515.0,555.9 L1515.5,555.4 L1516.0,555.3 L1516.5,555.5 L1517.0,555.9 L1517.5,556.7 L1518.0,557.7 L1519.0,560.3 L1522.0,569.2 L1523.5,572.9 L1524.5,574.9 L1525.5,576.5 L1526.5,577.7 L1527.5,578.6 L1528.5,579.3 L1530.0,579.9 L1534.5,580.8 L1547.0,581.4 L1559.5,581.6 L1572.0,581.7 L1584.5,581.7 L1597.0,581.7 L1609.5,581.6 L1615.5,581.1 L1620.0,580.3 L1622.0,580.3 L1630.0,581.5 L1642.5,581.6 L1655.0,581.3 L1660.0,580.7 L1662.5,580.0 L1664.5,579.0 L1666.5,577.5 L1669.0,575.0 L1672.5,570.9 L1673.5,570.0 L1674.5,569.5 L1675.0,569.3 L1675.5,569.3 L1676.0,569.3 L1676.5,569.5 L1677.5,570.0 L1679.0,571.5 L1683.5,576.6 L1685.5,578.4 L1687.5,579.6 L1689.5,580.4 L1694.5,581.2 L1707.0,581.6 L1714.0,581.7" stroke="#ff0000"/>
<path d="M1357.0,489.8 L1369.5,489.8 L1382.0,489.6 L1394.5,489.4 L1407.0,488.7 L1413.5,487.8 L1416.0,487.0 L1417.5,486.3 L1418.5,485.5 L1419.5,484.5 L1420.5,483.1 L1421.5,481.2 L1422.5,478.6 L1423.5,475.1 L1424.5,470.7 L1425.5,465.4 L1430.0,434.3 L1430.5,431.4 L1431.0,429.1 L1431.5,427.4 L1432.0,426.4 L1432.5,426.1 L1433.0,426.7 L1433.5,428.0 L1434.0,429.9 L1434.5,432.5 L1436.0,442.4 L1438.5,460.3 L1440.0,469.2 L1441.0,473.9 L1442.0,477.6 L1443.0,480.5 L1444.0,482.6 L1445.0,484.1 L1446.0,485.2 L1447.0,486.0 L1448.5,486.8 L1452.0,487.8 L1464.5,489.0 L1477.0,489.2 L1489.5,489.1 L1500.0,488.2 L1503.0,487.5 L1504.5,486.9 L1505.5,486.3 L1506.5,485.4 L1507.5,484.2 L1508.5,482.5 L1509.5,480.3 L1510.5,477.4 L1511.5,473.8 L1513.0,467.1 L1516.0,451.6 L1517.0,447.3 L1517.5,445.7 L1518.0,444.6 L1518.5,444.0 L1519.0,443.9 L1519.5,444.4 L1520.0,445.5 L1520.5,447.0 L1521.5,451.1 L1525.0,469.1 L1526.5,475.3 L1527.5,478.7 L1528.5,481.3 L1529.5,483.3 L1530.5,484.8 L1531.5,485.8 L1532.5,486.6 L1534.0,487.4 L1537.0,488.2 L1549.5,489.3 L1562.0,489.6 L1574.5,489.7 L1587.0,489.8 L1599.5,489.8 L1612.0,489.8 L1624.5,489.8 L1637.0,489.8 L1649.5,489.6 L1660.0,489.1 L1663.0,488.4 L1665.0,487.6 L1666.5,486.7 L1668.5,485.0 L1674.0,478.7 L1675.0,477.8 L1676.0,477.2 L1676.5,477.0 L1677.0,477.0 L1677.5,477.0 L1678.0,477.2 L1679.0,477.8 L1680.5,479.2 L1685.0,484.6 L1687.0,486.4 L1688.5,487.4 L1690.5,488.3 L1693.5,489.0 L1706.0,489.7 L1714.0,489.8" stroke="#0000ff"/>
<path d="M1357.0,386.7 L1369.5,386.6 L1382.0,386.5 L1394.5,386.3 L1407.0,385.7 L1416.5,384.6 L1420.0,383.6 L1421.5,382.9 L1422.5,382.3 L1423.5,381.5 L1424.5,380.3 L1425.5,378.6 L1426.5,376.4 L1427.5,373.3 L1428.5,369.1 L1429.5,363.8 L1430.5,357.2 L1432.0,345.1 L1435.0,317.2 L1436.0,309.8 L1436.5,307.1 L1437.0,305.2 L1437.5,304.3 L1438.0,304.4 L1438.5,305.5 L1439.0,307.6 L1439.5,310.4 L1440.5,318.1 L1444.0,350.2 L1445.0,357.9 L1446.0,364.4 L1447.0,369.6 L1448.0,373.6 L1449.0,376.6 L1450.0,378.8 L1451.0,380.4 L1452.0,381.5 L1453.0,382.3 L1454.5,383.2 L1458.0,384.3 L1470.5,385.7 L1483.0,386.0 L1495.5,385.9 L1505.0,385.2 L1507.5,384.6 L1509.0,384.1 L1510.0,383.5 L1511.0,382.7 L1512.0,381.6 L1513.0,380.2 L1514.0,378.2 L1515.0,375.6 L1516.0,372.4 L1517.5,366.5 L1520.5,352.7 L1521.5,348.9 L1522.0,347.5 L1522.5,346.5 L1523.0,345.9 L1523.5,345.9 L1524.0,346.3 L1524.5,347.3 L1525.0,348.6 L1526.0,352.3 L1529.5,368.2 L1531.0,373.8 L1532.0,376.8 L1533.0,379.1 L1534.0,380.9 L1535.0,382.2 L1536.0,383.2 L1537.0,383.8 L1538.5,384.5 L1543.5,385.6 L1556.0,386.3 L1568.5,386.6 L1581.0,386.7 L1593.5,386.7 L1606.0,386.7 L1618.5,386.7 L1631.0,386.7 L1643.5,386.6 L1656.0,386.4 L1665.5,385.8 L1668.0,385.3 L1670.0,384.6 L1671.5,383.7 L1673.0,382.4 L1674.5,380.9 L1680.0,373.1 L1681.0,372.0 L1681.5,371.5 L1682.0,371.2 L1682.5,371.0 L1683.0,371.0 L1683.5,371.0 L1684.0,371.2 L1684.5,371.5 L1685.5,372.5 L1691.0,380.2 L1692.5,382.0 L1694.0,383.3 L1695.5,384.3 L1697.5,385.2 L1701.0,385.9 L1713.5,386.6 L1714.0,386.6" stroke="#00ff00"/>
<path d="M1357.0,264.8 L1369.5,264.8 L1382.0,264.7 L1394.5,264.5 L1407.0,263.9 L1414.5,263.1 L1417.0,262.4 L1418.5,261.8 L1419.5,261.2 L1420.5,260.3 L1421.5,259.0 L1422.5,257.4 L1423.5,255.1 L1424.5,252.1 L1425.5,248.4 L1427.0,241.5 L1430.5,222.3 L1431.0,220.1 L1431.5,218.2 L1432.0,216.8 L1432.5,215.9 L1433.0,215.6 L1433.5,215.9 L1434.0,216.8 L1434.5,218.2 L1435.0,220.1 L1436.0,224.8 L1439.0,241.4 L1440.5,248.4 L1441.5,252.1 L1442.5,255.0 L1443.5,257.2 L1444.5,258.9 L1445.5,260.1 L1446.5,261.0 L1448.0,261.9 L1450.5,262.7 L1463.0,263.8 L1475.5,263.8 L1488.0,263.1 L1496.5,261.8 L1500.0,260.8 L1502.0,259.8 L1503.5,258.7 L1504.5,257.7 L1505.5,256.3 L1506.5,254.3 L1507.5,251.6 L1508.5,247.9 L1509.5,242.8 L1510.5,236.1 L1511.5,227.6 L1512.5,217.0 L1514.5,190.7 L1517.0,155.1 L1517.5,149.2 L1518.0,144.4 L1518.5,140.7 L1519.0,138.4 L1519.5,137.6 L1520.0,138.4 L1520.5,140.7 L1521.0,144.4 L1521.5,149.3 L1522.5,161.6 L1525.5,204.6 L1527.0,222.6 L1528.0,232.1 L1529.0,239.8 L1530.0,245.6 L1531.0,250.0 L1532.0,253.1 L1533.0,255.4 L1534.0,257.1 L1535.0,258.3 L1536.0,259.2 L1537.5,260.1 L1540.5,261.4 L1552.0,263.4 L1564.5,264.1 L1577.0,264.5 L1589.5,264.6 L1602.0,264.7 L1614.5,264.8 L1627.0,264.8 L1639.5,264.8 L1652.0,264.7 L1662.0,264.2 L1665.0,263.6 L1667.5,262.8 L1674.5,258.6 L1675.5,258.2 L1676.5,257.9 L1677.5,258.0 L1678.5,258.2 L1680.0,258.9 L1685.5,262.3 L1688.0,263.4 L1691.5,264.2 L1704.0,264.8 L1714.0,264.9" stroke="#ff00ff"/>
<path d="M1357.0,123.7 L1369.5,123.7 L1382.0,123.6 L1394.5,123.4 L1407.0,122.9 L1416.0,121.8 L1419.0,121.0 L1420.5,120.3 L1421.5,119.7 L1422.5,118.8 L1423.5,117.5 L1424.5,115.8 L1425.5,113.4 L1426.5,110.2 L1427.5,106.2 L1428.5,101.1 L1430.0,91.8 L1433.0,70.4 L1434.0,64.7 L1434.5,62.7 L1435.0,61.2 L1435.5,60.5 L1436.0,60.6 L1436.5,61.5 L1437.0,63.0 L1437.5,65.2 L1438.5,71.1 L1442.0,95.7 L1443.0,101.6 L1444.0,106.6 L1445.0,110.5 L1446.0,113.6 L1447.0,115.9 L1448.0,117.6 L1449.0,118.8 L1450.0,119.7 L1451.5,120.6 L1454.0,121.4 L1466.5,122.7 L1479.0,123.0 L1491.5,122.6 L1501.0,121.6 L1504.0,120.8 L1505.5,120.1 L1506.5,119.5 L1507.5,118.6 L1508.5,117.3 L1509.5,115.5 L1510.5,113.1 L1511.5,109.9 L1512.5,105.8 L1513.5,100.6 L1515.0,91.0 L1518.0,68.6 L1519.0,62.5 L1519.5,60.1 L1520.0,58.5 L1520.5,57.6 L1521.0,57.5 L1521.5,58.3 L1522.0,59.8 L1522.5,62.0 L1523.5,67.9 L1527.0,93.8 L1528.0,100.0 L1529.0,105.3 L1530.0,109.6 L1531.0,112.9 L1532.0,115.4 L1533.0,117.2 L1534.0,118.5 L1535.0,119.5 L1536.0,120.2 L1538.0,121.1 L1550.5,122.9 L1563.0,123.3 L1575.5,123.5 L1588.0,123.6 L1600.5,123.7 L1613.0,123.7 L1625.5,123.7 L1638.0,123.7 L1650.5,123.6 L1663.0,123.2 L1666.5,122.7 L1669.0,121.9 L1671.0,120.8 L1673.0,119.3 L1678.0,114.4 L1679.0,113.6 L1680.0,113.1 L1680.5,113.0 L1681.0,113.0 L1681.5,113.0 L1682.5,113.3 L1683.5,114.0 L1689.0,119.3 L1691.0,120.8 L1693.0,121.9 L1695.5,122.7 L1708.0,123.6 L1714.0,123.7" stroke="#00ffff"/>
</g>
<g stroke="#000" stroke-width="6">
<line x1="1432.4" y1="830.0" x2="1432.4" y2="848"/>
<line x1="1517.0" y1="830.0" x2="1517.0" y2="848"/>
<line x1="1676.6" y1="830.0" x2="1676.6" y2="848"/>
</g>
<g font-family="'Liberation Serif', serif" font-size="35" fill="#000" text-anchor="middle">
<text x="1431.5" y="885">29.12</text><text x="1517" y="885">30.34</text><text x="1676" y="885">32.62</text>
</g>
<g font-family="'Liberation Sans', sans-serif" font-weight="bold" font-size="38.2">
<text x="1706.5" y="81.0" text-anchor="end" fill="#00ffff">Co doped</text>
<text x="1696.0" y="225.5" text-anchor="end" fill="#ff00ff">Li doped</text>
<text x="1696.0" y="337.8" text-anchor="end" fill="#00ff00">Ni doped</text>
<text x="1705.8" y="456.3" text-anchor="end" fill="#0000ff">Cu doped</text>
<text x="1694.6" y="542.8" text-anchor="end" fill="#ff0000">Sn-doped</text>
<text x="1660.3" y="707.4" text-anchor="end" fill="#ff8000"><tspan font-family="'Liberation Serif', serif" font-weight="normal" font-size="1.04em">β−</tspan>PbO</text>
</g>
<g font-family="'Liberation Sans', sans-serif" fill="#222" style="font-kerning:none">
<text transform="translate(1447.0,629.7) rotate(-90)" text-anchor="middle" font-size="42" letter-spacing="1.0">(111)</text>
<text transform="translate(1532.0,622.2) rotate(-90)" text-anchor="middle" font-size="42" letter-spacing="1.0">(020)</text>
<text transform="translate(1693.0,664.0) rotate(-90)" text-anchor="middle" font-size="42" letter-spacing="1.0">(200)</text>
</g>
</svg>
</body>
</html>
